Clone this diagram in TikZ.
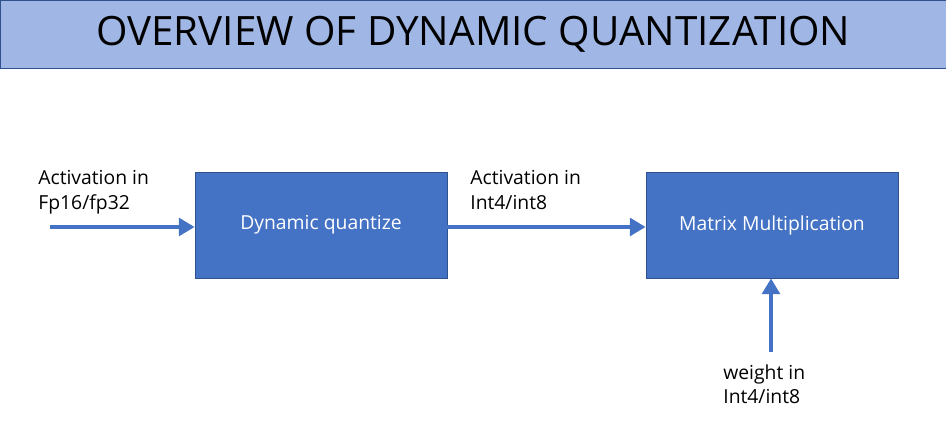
\documentclass[tikz,border=0pt]{standalone}
\usepackage{fontspec}
\setmainfont{Open Sans}
\usetikzlibrary{arrows.meta, positioning}
\definecolor{boxcolor}{RGB}{68, 114, 196}
\definecolor{edgecolor}{RGB}{47, 82, 143}
\definecolor{titlecolor}{RGB}{160, 182, 228}

\begin{document}
\begin{tikzpicture}[
    x=0.02cm, y=-0.02cm,
    block/.style={rectangle, draw=edgecolor, fill=boxcolor, text=white, minimum width=5.04cm, minimum height=2.12cm, align=center, font=\fontsize{11}{13}\selectfont},
    label/.style={align=left, font=\fontsize{11}{14}\selectfont, inner sep=0pt},
    arrow/.style={-{Triangle[length=9pt, width=10pt]}, line width=2.5pt, boxcolor}
]
\useasboundingbox (0,0) rectangle (946,428);

% Title
\node[draw=edgecolor, fill=titlecolor, minimum width=18.92cm, minimum height=1.36cm, font=\fontsize{23}{26}\selectfont, anchor=north west] (title) at (0,0) {OVERVIEW OF DYNAMIC QUANTIZATION};

% Blocks
\node[block] (quant) at (321, 225) {Dynamic quantize};
\node[block] (matmul) at (772, 225) {Matrix Multiplication};

% Free ends
\coordinate (start) at (50, 227);
\coordinate (wstart) at (771, 352);

% Arrows
\draw[arrow] (start) -- (quant.west |- start);
\draw[arrow] (quant.east |- start) -- (matmul.west |- start);
\draw[arrow] (wstart) -- (wstart |- matmul.south);

% Labels
\node[label, anchor=north west] (inlabel) at (38, 170) {Activation in\\Fp16/fp32};
\node[label, anchor=north west] (midlabel) at (470, 170) {Activation in\\Int4/int8};
\node[label, anchor=north west] (wlabel) at (723, 364) {weight in\\Int4/int8};

\end{tikzpicture}
\end{document}
